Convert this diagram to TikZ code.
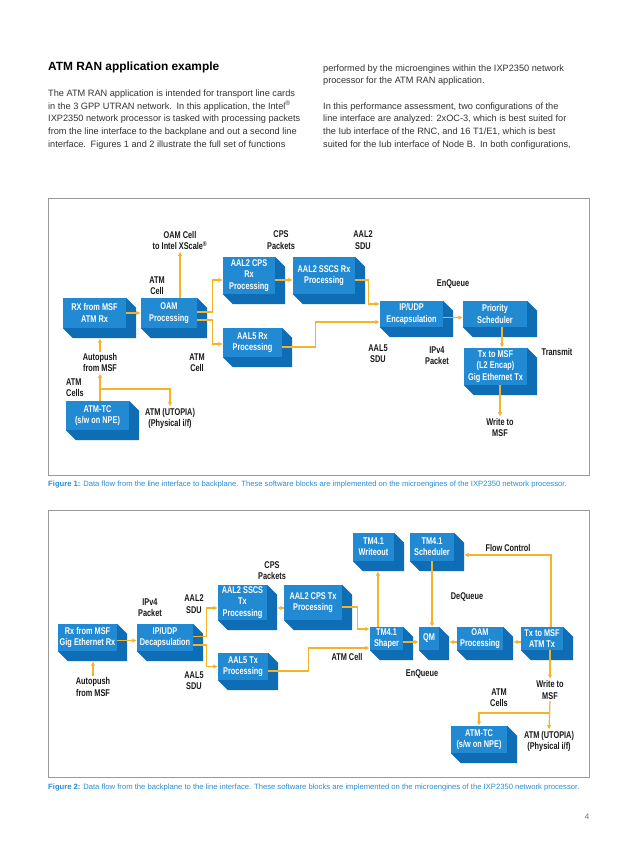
\documentclass[tikz,border=0pt]{standalone}
\usepackage{fontspec}
\setmainfont{Liberation Sans}
\newfontfamily\dgmfont[FakeStretch=0.75]{Liberation Sans}
\usetikzlibrary{arrows.meta,calc}

\definecolor{blkface}{HTML}{2289D3}
\definecolor{blkside}{HTML}{0F6DB6}
\definecolor{flowcol}{HTML}{F5B325}
\definecolor{framecol}{HTML}{9A9A9A}
\definecolor{capcol}{HTML}{2A8DD4}

\tikzset{
  blk/.style={fill=blkface, text=white, align=center, inner sep=0pt,
    font=\dgmfont\bfseries\fontsize{9.8}{11.3}\selectfont},
  lbl/.style={text=black!90, align=center, inner sep=1.5pt,
    font=\dgmfont\bfseries\fontsize{9.8}{11.3}\selectfont},
  flow/.style={draw=flowcol, line width=1.2pt, -{Latex[length=4.5pt,width=4.5pt]}},
  figframe/.style={draw=framecol, line width=0.9pt},
  body/.style={text=black!80, align=left, anchor=west, inner sep=0pt,
    font=\fontsize{9.2}{12.7}\selectfont},
  figcap/.style={text=capcol, anchor=west, inner sep=0pt,
    font=\fontsize{7.65}{9}\selectfont}
}

% dark side of a block, below and right of its face
\newcommand{\extrude}[1]{%
  \fill[blkside] (#1.north east) -- ++(10pt,-10pt)
    -- ([shift={(10pt,-10pt)}]#1.south east)
    -- ([shift={(10pt,-10pt)}]#1.south west)
    -- (#1.south west) -- (#1.south east) -- cycle;}
% name, centre, width, height, text
\newcommand{\blkbox}[5]{%
  \node[blk, minimum width=#3pt, minimum height=#4pt] (#1) at (#2) {#5};
  \extrude{#1}}

\begin{document}
\begin{tikzpicture}[x=1pt,y=-1pt]
\fill[white] (0,0) rectangle (638,851);
\useasboundingbox (0,0) rectangle (638,851);

% text of the page
\node[body, font=\bfseries\fontsize{11.9}{14}\selectfont, text=black] (head) at (48,67) {ATM RAN application example};
\node[body] (parl) at (48,119.4) {The ATM RAN application is intended for transport line cards\\
in the 3 GPP UTRAN network.\enspace In this application, the Intel\textsuperscript{®}\\
IXP2350 network processor is tasked with processing packets\\
from the line interface to the backplane and out a second line\\
interface.\enspace Figures 1 and 2 illustrate the full set of functions};
\node[body] (parr) at (323,75) {performed by the microengines within the IXP2350 network\\
processor for the ATM RAN application.};
\node[body] (parr2) at (323,125.8) {In this performance assessment, two configurations of the\\
line interface are analyzed: 2xOC-3, which is best suited for\\
the Iub interface of the RNC, and 16 T1/E1, which is best\\
suited for the Iub interface of Node B.\enspace In both configurations,};

%%%%% Figure 1
\draw[figframe] (48,198) rectangle (589,475);
\blkbox{rxmsf}{94.5,313}{63}{30}{RX from MSF\\ATM Rx}
\blkbox{oam}{169,313}{56}{30}{OAM\\Processing}
\blkbox{cpsrx}{249,275.5}{52}{37}{AAL2 CPS\\Rx\\Processing}
\blkbox{sscsrx}{324,275.5}{62}{37}{AAL2 SSCS Rx\\Processing}
\blkbox{aal5rx}{252.5,342.5}{59}{29}{AAL5 Rx\\Processing}
\blkbox{ipudp}{411.5,314}{63}{26}{IP/UDP\\Encapsulation}
\blkbox{prio}{495,314}{64}{26}{Priority\\Scheduler}
\blkbox{txmsf}{495.5,366.5}{63}{37}{Tx to MSF\\(L2 Encap)\\Gig Ethernet Tx}
\blkbox{atmtc}{97.5,415.5}{63}{29}{ATM-TC\\(s/w on NPE)}

\node[lbl] (oamlbl) at (180,240.5) {OAM Cell\\to Intel XScale\textsuperscript{®}};
\node[lbl] (cpslbl) at (281,240) {CPS\\Packets};
\node[lbl] (aal2lbl) at (363,240) {AAL2\\SDU};
\node[lbl] (atmcell1) at (157,285.5) {ATM\\Cell};
\node[lbl] (enq1) at (453,284) {EnQueue};
\node[lbl] (autop) at (100,362.5) {Autopush\\from MSF};
\node[lbl] (atmcell2) at (197,362.5) {ATM\\Cell};
\node[lbl] (aal5lbl) at (378,354) {AAL5\\SDU};
\node[lbl] (ipv4lbl) at (437,355.5) {IPv4\\Packet};
\node[lbl] (transmit) at (557,352) {Transmit};
\node[lbl, align=left, anchor=west] (atmcells) at (64.5,387.5) {ATM\\Cells};
\node[lbl] (utopia) at (170,418.5) {ATM (UTOPIA)\\(Physical i/f)};
\node[lbl] (wrmsf) at (500,427.5) {Write to\\MSF};

\draw[flow] (rxmsf.east) -- (oam.west);
\draw[flow] (oam.north -| oamlbl.south) -- (oamlbl.south);
\draw[flow] ([yshift=1pt]oam.east) -- ++(15,0) |- ([yshift=-4.5pt]cpsrx.west);
\draw[flow] ([yshift=-7pt]oam.east) -- ++(15,0) |- ([yshift=-1.5pt]aal5rx.west);
\draw[flow] ([yshift=-4.5pt]cpsrx.east) -- ([yshift=-4.5pt]sscsrx.west);
\draw[flow] ([yshift=-4.5pt]sscsrx.east) -- ++(13,0) |- ([yshift=10pt]ipudp.west);
\draw[flow] ([yshift=-4.5pt]aal5rx.east) -- ++(33,0) |- ([yshift=-8pt]ipudp.west);
\draw[flow] ([yshift=-3.5pt]ipudp.east) -- ([yshift=-3.5pt]prio.west);
\draw[flow] ([xshift=7pt]prio.south) -- ([xshift=7pt]prio.south |- txmsf.north);
\draw[flow] (txmsf.south -| wrmsf.north) -- (wrmsf.north);
\draw[flow] (autop.north) -- ($(autop.north |- rxmsf.south)+(0,10)$);
\draw[flow] (atmtc.north -| autop.south) -- (autop.south);
\coordinate (tcsplit) at (100,389);
\draw[flow] (tcsplit) -| (utopia.north);

\node[figcap] (cap1) at (48,485) {\textbf{Figure 1:} Data flow from the line interface to backplane. These software blocks are implemented on the microengines of the IXP2350 network processor.};

%%%%% Figure 2
\draw[figframe] (48,510) rectangle (589,777);
\blkbox{rxgig}{87.5,637.5}{59}{27}{Rx from MSF\\Gig Ethernet Rx}
\blkbox{ipdecap}{165,637.5}{56}{27}{IP/UDP\\Decapsulation}
\blkbox{sscstx}{242.5,602.5}{49}{35}{AAL2 SSCS\\Tx\\Processing}
\blkbox{cpstx}{313,602.5}{58}{35}{AAL2 CPS Tx\\Processing}
\blkbox{aal5tx}{243,666.5}{50}{27}{AAL5 Tx\\Processing}
\blkbox{writeout}{373.5,547}{41}{28}{TM4.1\\Writeout}
\blkbox{sched}{432,547}{44}{28}{TM4.1\\Scheduler}
\blkbox{shaper}{386.5,638.5}{33}{23}{TM4.1\\Shaper}
\blkbox{qm}{429,638.5}{20}{23}{QM}
\blkbox{oam2}{480,638.5}{46}{23}{OAM\\Processing}
\blkbox{txatm}{542,638.5}{42}{23}{Tx to MSF\\ATM Tx}
\blkbox{atmtc2}{479,739.5}{56}{27}{ATM-TC\\(s/w on NPE)}

\node[lbl] (cps2) at (272,570.5) {CPS\\Packets};
\node[lbl] (ipv4b) at (150,608) {IPv4\\Packet};
\node[lbl] (aal2b) at (194,604) {AAL2\\SDU};
\node[lbl] (flowc) at (508,548) {Flow Control};
\node[lbl] (deq) at (467,597) {DeQueue};
\node[lbl] (atmcell3) at (347,657) {ATM Cell};
\node[lbl] (enq2) at (422,674) {EnQueue};
\node[lbl] (autop2) at (93,687) {Autopush\\from MSF};
\node[lbl] (aal5b) at (194,681) {AAL5\\SDU};
\node[lbl] (wrmsf2) at (550,690) {Write to\\MSF};
\node[lbl] (atmcells2) at (499,698) {ATM\\Cells};
\node[lbl] (utopia2) at (549,741.5) {ATM (UTOPIA)\\(Physical i/f)};

\draw[flow] ([yshift=-3pt]rxgig.east) -- ([yshift=-3pt]ipdecap.west);
\draw[flow] (autop2.north) -- ($(autop2.north |- rxgig.south)+(0,10)$);
\draw[flow] ([yshift=1pt]ipdecap.east) -- ++(13,0) |- ([yshift=-5.5pt]sscstx.west);
\draw[flow] ([yshift=-7.5pt]ipdecap.east) -- ++(13,0) |- (aal5tx.west);
\draw[flow] ([yshift=-5.5pt]cpstx.west) -- ($([yshift=-5.5pt]sscstx.east)+(10,0)$);
\draw[flow] ([yshift=-4.5pt]cpstx.east) -- ++(15,0) |- ([yshift=9.5pt]shaper.west);
\draw[flow] ([yshift=-4.5pt]aal5tx.east) -- ++(40,0) |- ([yshift=-9.5pt]shaper.west);
\draw[flow] ([xshift=-8.5pt]shaper.north) -- ($([xshift=-8.5pt]shaper.north |- writeout.south)+(0,10)$);
\draw[flow] (sched.south) -- (sched.south |- qm.north);
\draw[flow] ([yshift=-3.5pt]shaper.east) -- ([yshift=-3.5pt]qm.west);
\draw[flow] ([yshift=-3.5pt]oam2.west) -- ($([yshift=-3.5pt]qm.east)+(10,0)$);
\draw[flow] ([yshift=-3.5pt]txatm.west) -- ($([yshift=-3.5pt]oam2.east)+(10,0)$);
\draw[flow] ([xshift=9pt]txatm.north) |- ($([yshift=-8pt]sched.east)+(10,0)$);
\draw[flow] (txatm.south -| wrmsf2.north) -- (wrmsf2.north);
\draw[flow] (wrmsf2.south) -- (utopia2.north);
\coordinate (wrsplit) at (550,713);
\draw[flow] (wrsplit) -| (atmtc2.north);

\node[figcap] (cap2) at (48,788) {\textbf{Figure 2:} Data flow from the backplane to the line interface. These software blocks are implemented on the microengines of the IXP2350 network processor.};

\node[text=black!55, font=\fontsize{8}{9}\selectfont] (pgno) at (587,817) {4};
\end{tikzpicture}
\end{document}
